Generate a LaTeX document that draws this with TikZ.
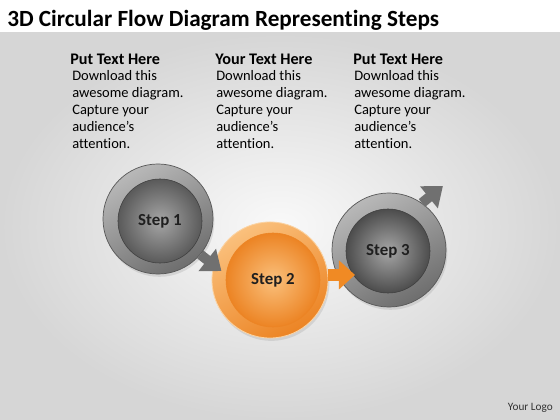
\documentclass[tikz,border=0pt]{standalone}
\usepackage{fontspec}
\setmainfont[Ligatures=CommonOff]{Carlito}
\usepackage{tikz}
\usetikzlibrary{arrows.meta,shadows}

\definecolor{bgin}{HTML}{F9F9F9}
\definecolor{bgout}{HTML}{D6D6D6}
\definecolor{ringlight}{HTML}{B8B8B8}
\definecolor{ringdark}{HTML}{6E6E6E}
\definecolor{disclight}{HTML}{A6A6A6}
\definecolor{discdark}{HTML}{5A5A5A}
\definecolor{orlight}{HTML}{FAC07C}
\definecolor{ordark}{HTML}{EC8424}
\definecolor{orarrow}{HTML}{F08A24}
\definecolor{grarrow}{HTML}{707070}

\begin{document}
\begin{tikzpicture}[x=0.025cm,y=-0.025cm,
    head/.style={font=\fontsize{11.5}{13}\selectfont\bfseries, anchor=base west, inner sep=0pt},
    body/.style={font=\fontsize{10.3}{12.1}\selectfont, align=left, anchor=north west, inner sep=0pt},
    grayring/.style={circle, draw=ringdark!80!black, line width=0.5pt, top color=ringlight, bottom color=ringdark, shading angle=30,
      drop shadow={opacity=0.2, shadow xshift=1pt, shadow yshift=-2pt}},
    orring/.style={circle, draw=orlight!70!white, line width=0.6pt, top color=orlight, bottom color=ordark, shading angle=30,
      drop shadow={opacity=0.2, shadow xshift=1pt, shadow yshift=-2pt}},
    graydisc/.style={circle, draw=discdark!70!black, line width=0.4pt, inner color=disclight, outer color=discdark,
      font=\fontsize{12}{14}\selectfont\bfseries, text=black!88},
    ordisc/.style={circle, draw=ordark, line width=0.4pt, inner color=orlight, outer color=ordark,
      font=\fontsize{12}{14}\selectfont\bfseries, text=black!88},
    grayarrow/.style={draw=grarrow, line width=0.25cm, -{Triangle[length=0.45cm,width=0.68cm]}},
    orarrowst/.style={draw=orarrow, line width=0.32cm, -{Triangle[length=0.4cm,width=0.7cm]}}
  ]
  \useasboundingbox (0,0) rectangle (560,420);
  % background
  \fill[white] (0,0) rectangle (560,33);
  \shade[inner color=bgin, outer color=bgout] (0,33) rectangle (560,420);

  \node[font=\fontsize{16.5}{18}\selectfont\bfseries, anchor=base west, inner sep=0pt] (title) at (7,27)
    {3D Circular Flow Diagram Representing Steps};

  % text columns
  \node[head] (head1) at (70,65) {Put Text Here};
  \node[body] (body1) at (72,70) {Download this\\awesome diagram.\\Capture your\\audience’s\\attention.};
  \node[head] (head2) at (215,65) {Your Text Here};
  \node[body] (body2) at (216,70) {Download this\\awesome diagram.\\Capture your\\audience’s\\attention.};
  \node[head] (head3) at (353,65) {Put Text Here};
  \node[body] (body3) at (354,70) {Download this\\awesome diagram.\\Capture your\\audience’s\\attention.};

  % steps
  \node[grayring, minimum size=2.75cm] (step1) at (158,219) {};
  \node[graydisc, minimum size=2.1cm] (disc1) at (160,221) {Step 1};
  \node[grayring, minimum size=2.85cm] (step3) at (389,250) {};
  \node[graydisc, minimum size=2.1cm, outer color=discdark!85!black] (disc3) at (388,251) {Step 3};
  \draw[grayarrow] (step3.55) -- ++(21,-17) coordinate (out3);

  \node[orring, minimum size=2.9cm] (step2) at (270,280) {};
  \node[ordisc, minimum size=2.35cm] (disc2) at (273,280) {Step 2};

  \draw[grayarrow, shorten >=-0.25cm] (step1.-40) -- (step2.165);
  \draw[orarrowst, shorten >=0.85cm] (step2.5) -- (step2.5 -| step3.center);

  \node[font=\fontsize{8}{10}\selectfont, text=black!80, anchor=base east, inner sep=0pt] (logo) at (553,410) {Your Logo};
\end{tikzpicture}
\end{document}
